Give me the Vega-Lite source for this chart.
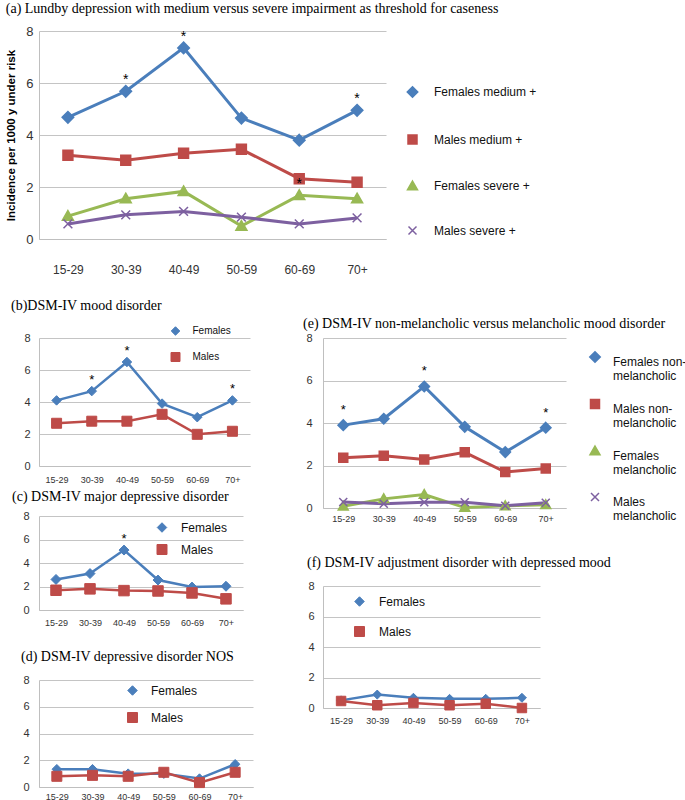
{
"$schema": "https://vega.github.io/schema/vega-lite/v6.json",
"padding": {"left": 5, "top": 2, "right": 0, "bottom": 0},
"background": "white",
"data": {"values": [
{"p":"a","s":"Females medium +","age":"15-29","v":4.68},
{"p":"a","s":"Females medium +","age":"30-39","v":5.68,"sig":"*"},
{"p":"a","s":"Females medium +","age":"40-49","v":7.35,"sig":"*"},
{"p":"a","s":"Females medium +","age":"50-59","v":4.65},
{"p":"a","s":"Females medium +","age":"60-69","v":3.8},
{"p":"a","s":"Females medium +","age":"70+","v":4.95,"sig":"*"},
{"p":"a","s":"Males medium +","age":"15-29","v":3.22},
{"p":"a","s":"Males medium +","age":"30-39","v":3.03},
{"p":"a","s":"Males medium +","age":"40-49","v":3.3},
{"p":"a","s":"Males medium +","age":"50-59","v":3.45},
{"p":"a","s":"Males medium +","age":"60-69","v":2.32},
{"p":"a","s":"Males medium +","age":"70+","v":2.18},
{"p":"a","s":"Females severe +","age":"15-29","v":0.88},
{"p":"a","s":"Females severe +","age":"30-39","v":1.55},
{"p":"a","s":"Females severe +","age":"40-49","v":1.83},
{"p":"a","s":"Females severe +","age":"50-59","v":0.5},
{"p":"a","s":"Females severe +","age":"60-69","v":1.68,"sig":"*"},
{"p":"a","s":"Females severe +","age":"70+","v":1.55},
{"p":"a","s":"Males severe +","age":"15-29","v":0.58},
{"p":"a","s":"Males severe +","age":"30-39","v":0.93},
{"p":"a","s":"Males severe +","age":"40-49","v":1.06},
{"p":"a","s":"Males severe +","age":"50-59","v":0.84},
{"p":"a","s":"Males severe +","age":"60-69","v":0.58},
{"p":"a","s":"Males severe +","age":"70+","v":0.81},
{"p":"b","s":"Females","age":"15-29","v":4.1},
{"p":"b","s":"Females","age":"30-39","v":4.68,"sig":"*"},
{"p":"b","s":"Females","age":"40-49","v":6.5,"sig":"*"},
{"p":"b","s":"Females","age":"50-59","v":3.9},
{"p":"b","s":"Females","age":"60-69","v":3.05},
{"p":"b","s":"Females","age":"70+","v":4.1,"sig":"*"},
{"p":"b","s":"Males","age":"15-29","v":2.67},
{"p":"b","s":"Males","age":"30-39","v":2.8},
{"p":"b","s":"Males","age":"40-49","v":2.8},
{"p":"b","s":"Males","age":"50-59","v":3.23},
{"p":"b","s":"Males","age":"60-69","v":1.98},
{"p":"b","s":"Males","age":"70+","v":2.17},
{"p":"c","s":"Females","age":"15-29","v":2.6},
{"p":"c","s":"Females","age":"30-39","v":3.1},
{"p":"c","s":"Females","age":"40-49","v":5.1,"sig":"*"},
{"p":"c","s":"Females","age":"50-59","v":2.55},
{"p":"c","s":"Females","age":"60-69","v":1.95},
{"p":"c","s":"Females","age":"70+","v":2.02},
{"p":"c","s":"Males","age":"15-29","v":1.68},
{"p":"c","s":"Males","age":"30-39","v":1.8},
{"p":"c","s":"Males","age":"40-49","v":1.65},
{"p":"c","s":"Males","age":"50-59","v":1.62},
{"p":"c","s":"Males","age":"60-69","v":1.45},
{"p":"c","s":"Males","age":"70+","v":0.95},
{"p":"d","s":"Females","age":"15-29","v":1.33},
{"p":"d","s":"Females","age":"30-39","v":1.33},
{"p":"d","s":"Females","age":"40-49","v":1.0},
{"p":"d","s":"Females","age":"50-59","v":1.0},
{"p":"d","s":"Females","age":"60-69","v":0.63},
{"p":"d","s":"Females","age":"70+","v":1.7},
{"p":"d","s":"Males","age":"15-29","v":0.8},
{"p":"d","s":"Males","age":"30-39","v":0.87},
{"p":"d","s":"Males","age":"40-49","v":0.8},
{"p":"d","s":"Males","age":"50-59","v":1.1},
{"p":"d","s":"Males","age":"60-69","v":0.33},
{"p":"d","s":"Males","age":"70+","v":1.1},
{"p":"e","s":"Females non-melancholic","age":"15-29","v":3.9,"sig":"*"},
{"p":"e","s":"Females non-melancholic","age":"30-39","v":4.2},
{"p":"e","s":"Females non-melancholic","age":"40-49","v":5.72,"sig":"*"},
{"p":"e","s":"Females non-melancholic","age":"50-59","v":3.82},
{"p":"e","s":"Females non-melancholic","age":"60-69","v":2.63},
{"p":"e","s":"Females non-melancholic","age":"70+","v":3.78,"sig":"*"},
{"p":"e","s":"Males non-melancholic","age":"15-29","v":2.36},
{"p":"e","s":"Males non-melancholic","age":"30-39","v":2.46},
{"p":"e","s":"Males non-melancholic","age":"40-49","v":2.28},
{"p":"e","s":"Males non-melancholic","age":"50-59","v":2.62},
{"p":"e","s":"Males non-melancholic","age":"60-69","v":1.69},
{"p":"e","s":"Males non-melancholic","age":"70+","v":1.86},
{"p":"e","s":"Females melancholic","age":"15-29","v":0.08},
{"p":"e","s":"Females melancholic","age":"30-39","v":0.43},
{"p":"e","s":"Females melancholic","age":"40-49","v":0.63},
{"p":"e","s":"Females melancholic","age":"50-59","v":0.02},
{"p":"e","s":"Females melancholic","age":"60-69","v":0.1},
{"p":"e","s":"Females melancholic","age":"70+","v":0.15},
{"p":"e","s":"Males melancholic","age":"15-29","v":0.28},
{"p":"e","s":"Males melancholic","age":"30-39","v":0.2},
{"p":"e","s":"Males melancholic","age":"40-49","v":0.27},
{"p":"e","s":"Males melancholic","age":"50-59","v":0.27},
{"p":"e","s":"Males melancholic","age":"60-69","v":0.11},
{"p":"e","s":"Males melancholic","age":"70+","v":0.25},
{"p":"f","s":"Females","age":"15-29","v":0.5},
{"p":"f","s":"Females","age":"30-39","v":0.88},
{"p":"f","s":"Females","age":"40-49","v":0.67},
{"p":"f","s":"Females","age":"50-59","v":0.6},
{"p":"f","s":"Females","age":"60-69","v":0.6},
{"p":"f","s":"Females","age":"70+","v":0.67},
{"p":"f","s":"Males","age":"15-29","v":0.46},
{"p":"f","s":"Males","age":"30-39","v":0.18},
{"p":"f","s":"Males","age":"40-49","v":0.33},
{"p":"f","s":"Males","age":"50-59","v":0.18},
{"p":"f","s":"Males","age":"60-69","v":0.28},
{"p":"f","s":"Males","age":"70+","v":0.0}
]},
"spacing": 24,
"resolve": {"scale": {"color": "independent", "fill": "independent", "stroke": "independent", "shape": "independent"}, "legend": {"color": "independent", "fill": "independent", "stroke": "independent", "shape": "independent"}},
"vconcat": [
{
 "width": 347, "height": 208,
 "title": {"text": "(a) Lundby depression with medium versus severe impairment as threshold for caseness", "offset": 9},
 "transform": [{"filter": "datum.p === 'a'"}],
 "encoding": {
  "x": {"field": "age", "type": "ordinal", "scale": {"type": "point", "padding": 0.5, "domain": ["15-29","30-39","40-49","50-59","60-69","70+"]}, "axis": {"title": null, "labelAngle": 0, "labelFontSize": 12, "labelPadding": 25}},
  "y": {"field": "v", "type": "quantitative", "scale": {"domain": [0, 8], "nice": false}, "axis": {"title": "Incidence per 1000 y under risk", "titleFontWeight": "bold", "titleFontSize": 11.5, "titlePadding": 9, "titleColor": "#000", "values": [0,2,4,6,8], "labelFontSize": 13, "labelPadding": 6, "grid": true}}
 },
 "layer": [
  {
   "mark": {"type": "line", "strokeWidth": 3},
   "encoding": {
    "color": {
     "field": "s", "type": "nominal",
     "scale": {"domain": ["Females medium +","Males medium +","Females severe +","Males severe +"], "range": ["#4A7EBB","#BE4B48","#98B954","#7D60A0"]},
     "legend": {"orient": "none", "legendX": 367.5, "legendY": 55, "title": null, "labelFontSize": 12, "labelOffset": 15.5, "rowPadding": 30.5, "symbolSize": 100, "symbolStrokeWidth": 1.5}
    }
   }
  },
  {"mark": {"type": "point", "filled": true, "opacity": 1, "size": 121, "strokeWidth": 1.5},
   "encoding": {
    "fill": {"field": "s", "type": "nominal", "scale": {"domain": ["Females medium +","Males medium +","Females severe +","Males severe +"], "range": ["#4A7EBB","#BE4B48","#98B954","#7D60A0"]}, "legend": null},
    "stroke": {"field": "s", "type": "nominal", "scale": {"domain": ["Females medium +","Males medium +","Females severe +","Males severe +"], "range": ["#4A7EBB","#BE4B48","#98B954","#7D60A0"]}, "legend": null},
    "shape": {"field": "s", "type": "nominal", "scale": {"domain": ["Females medium +","Males medium +","Females severe +","Males severe +"], "range": ["M0,-1.05L1.05,0L0,1.05L-1.05,0Z","M-0.9,-0.9H0.9V0.9H-0.9Z","M0,-1L1,0.75H-1Z","M-0.8,-0.8L0.8,0.8M-0.8,0.8L0.8,-0.8"]}, "legend": null}}},
  {"transform": [{"filter": "datum.sig === '*'"}], "mark": {"type": "text", "dy": -11, "fontSize": 14, "color": "#000"}, "encoding": {"text": {"field": "sig"}}}
 ]
},
{
 "spacing": 50,
 "resolve": {"scale": {"color": "independent", "fill": "independent", "stroke": "independent", "shape": "independent"}, "legend": {"color": "independent", "fill": "independent", "stroke": "independent", "shape": "independent"}},
 "hconcat": [
  {
   "spacing": 23,
   "resolve": {"scale": {"color": "independent", "fill": "independent", "stroke": "independent", "shape": "independent"}, "legend": {"color": "independent", "fill": "independent", "stroke": "independent", "shape": "independent"}},
   "vconcat": [
    {
     "spacing": 6,
     "resolve": {"scale": {"color": "independent", "fill": "independent", "stroke": "independent", "shape": "independent"}, "legend": {"color": "independent", "fill": "independent", "stroke": "independent", "shape": "independent"}},
     "vconcat": [
      {
       "width": 211, "height": 128,
       "title": {"text": "(b)DSM-IV mood disorder", "offset": 13, "dx": -1},
       "transform": [{"filter": "datum.p === 'b'"}],
       "encoding": {
        "x": {"field": "age", "type": "ordinal", "scale": {"type": "point", "padding": 0.5, "domain": ["15-29","30-39","40-49","50-59","60-69","70+"]}, "axis": {"title": null, "labelAngle": 0, "labelFontSize": 9, "labelPadding": 9}},
        "y": {"field": "v", "type": "quantitative", "scale": {"domain": [0, 8], "nice": false}, "axis": {"title": null, "values": [0,2,4,6,8], "labelFontSize": 11, "labelPadding": 9, "grid": true, "minExtent": 27}}
       },
       "layer": [
        {
         "mark": {"type": "line", "strokeWidth": 2.5},
         "encoding": {
          "color": {
           "field": "s", "type": "nominal",
           "scale": {"domain": ["Females","Males"], "range": ["#4A7EBB","#BE4B48"]},
           "legend": {"orient": "none", "legendX": 131.5, "legendY": -12, "title": null, "labelFontSize": 10, "labelOffset": 12, "rowPadding": 12, "symbolSize": 81, "symbolStrokeWidth": 1}
          }
         }
        },
        {"mark": {"type": "point", "filled": true, "opacity": 1, "size": 100, "strokeWidth": 1},
         "encoding": {
          "fill": {"field": "s", "type": "nominal", "scale": {"domain": ["Females","Males"], "range": ["#4A7EBB","#BE4B48"]}, "legend": null},
          "stroke": {"field": "s", "type": "nominal", "scale": {"domain": ["Females","Males"], "range": ["#4A7EBB","#BE4B48"]}, "legend": null},
          "shape": {"field": "s", "type": "nominal", "scale": {"domain": ["Females","Males"], "range": ["M0,-0.95L0.95,0L0,0.95L-0.95,0Z","M-1,-1H1V1H-1Z"]}, "legend": null}}},
        {"transform": [{"filter": "datum.sig === '*'"}], "mark": {"type": "text", "dy": -11, "fontSize": 13, "color": "#000"}, "encoding": {"text": {"field": "sig"}}}
       ]
      },
      {
       "width": 204, "height": 94,
       "title": {"text": "(c) DSM-IV major depressive disorder", "offset": 6, "dx": 3},
       "transform": [{"filter": "datum.p === 'c'"}],
       "encoding": {
        "x": {"field": "age", "type": "ordinal", "scale": {"type": "point", "padding": 0.5, "domain": ["15-29","30-39","40-49","50-59","60-69","70+"]}, "axis": {"title": null, "labelAngle": 0, "labelFontSize": 9, "labelPadding": 8}},
        "y": {"field": "v", "type": "quantitative", "scale": {"domain": [0, 8], "nice": false}, "axis": {"title": null, "values": [0,2,4,6,8], "labelFontSize": 11, "labelPadding": 10, "grid": true, "minExtent": 30}}
       },
       "layer": [
        {
         "mark": {"type": "line", "strokeWidth": 2.5},
         "encoding": {
          "color": {
           "field": "s", "type": "nominal",
           "scale": {"domain": ["Females","Males"], "range": ["#4A7EBB","#BE4B48"]},
           "legend": {"orient": "none", "legendX": 117, "legendY": 5.5, "title": null, "labelFontSize": 12, "labelOffset": 13, "rowPadding": 8, "symbolSize": 100, "symbolStrokeWidth": 1}
          }
         }
        },
        {"mark": {"type": "point", "filled": true, "opacity": 1, "size": 110, "strokeWidth": 1},
         "encoding": {
          "fill": {"field": "s", "type": "nominal", "scale": {"domain": ["Females","Males"], "range": ["#4A7EBB","#BE4B48"]}, "legend": null},
          "stroke": {"field": "s", "type": "nominal", "scale": {"domain": ["Females","Males"], "range": ["#4A7EBB","#BE4B48"]}, "legend": null},
          "shape": {"field": "s", "type": "nominal", "scale": {"domain": ["Females","Males"], "range": ["M0,-0.95L0.95,0L0,0.95L-0.95,0Z","M-1,-1H1V1H-1Z"]}, "legend": null}}},
        {"transform": [{"filter": "datum.sig === '*'"}], "mark": {"type": "text", "dy": -11, "fontSize": 13, "color": "#000"}, "encoding": {"text": {"field": "sig"}}}
       ]
      }
     ]
    },
    {
     "width": 214, "height": 107,
     "title": {"text": "(d) DSM-IV depressive disorder NOS", "offset": 10, "dx": 15},
     "transform": [{"filter": "datum.p === 'd'"}],
     "encoding": {
      "x": {"field": "age", "type": "ordinal", "scale": {"type": "point", "padding": 0.5, "domain": ["15-29","30-39","40-49","50-59","60-69","70+"]}, "axis": {"title": null, "labelAngle": 0, "labelFontSize": 9, "labelPadding": 5}},
      "y": {"field": "v", "type": "quantitative", "scale": {"domain": [0, 8], "nice": false}, "axis": {"title": null, "values": [0,2,4,6,8], "labelFontSize": 11, "labelPadding": 10, "grid": true, "minExtent": 33}}
     },
     "layer": [
      {
       "mark": {"type": "line", "strokeWidth": 2.5},
       "encoding": {
        "color": {
         "field": "s", "type": "nominal",
         "scale": {"domain": ["Females","Males"], "range": ["#4A7EBB","#BE4B48"]},
         "legend": {"orient": "none", "legendX": 87.5, "legendY": 4.5, "title": null, "labelFontSize": 12, "labelOffset": 12.5, "rowPadding": 13, "symbolSize": 100, "symbolStrokeWidth": 1}
        }
       }
      },
      {"mark": {"type": "point", "filled": true, "opacity": 1, "size": 100, "strokeWidth": 1},
       "encoding": {
        "fill": {"field": "s", "type": "nominal", "scale": {"domain": ["Females","Males"], "range": ["#4A7EBB","#BE4B48"]}, "legend": null},
        "stroke": {"field": "s", "type": "nominal", "scale": {"domain": ["Females","Males"], "range": ["#4A7EBB","#BE4B48"]}, "legend": null},
        "shape": {"field": "s", "type": "nominal", "scale": {"domain": ["Females","Males"], "range": ["M0,-0.95L0.95,0L0,0.95L-0.95,0Z","M-1,-1H1V1H-1Z"]}, "legend": null}}}
     ]
    }
   ]
  },
  {
   "spacing": 33,
   "resolve": {"scale": {"color": "independent", "fill": "independent", "stroke": "independent", "shape": "independent"}, "legend": {"color": "independent", "fill": "independent", "stroke": "independent", "shape": "independent"}},
   "vconcat": [
    {
     "width": 243, "height": 170,
     "title": {"text": "(e) DSM-IV non-melancholic versus melancholic mood disorder", "offset": 1},
     "transform": [{"filter": "datum.p === 'e'"}],
     "encoding": {
      "x": {"field": "age", "type": "ordinal", "scale": {"type": "point", "padding": 0.5, "domain": ["15-29","30-39","40-49","50-59","60-69","70+"]}, "axis": {"title": null, "labelAngle": 0, "labelFontSize": 9, "labelPadding": 6}},
      "y": {"field": "v", "type": "quantitative", "scale": {"domain": [0, 8], "nice": false}, "axis": {"title": null, "values": [0,2,4,6,8], "labelFontSize": 11, "labelPadding": 11, "grid": true, "minExtent": 20}}
     },
     "layer": [
      {
       "mark": {"type": "line", "strokeWidth": 3},
       "encoding": {
        "color": {
         "field": "s", "type": "nominal",
         "scale": {"domain": ["Females non-melancholic","Males non-melancholic","Females melancholic","Males melancholic"], "range": ["#4A7EBB","#BE4B48","#98B954","#7D60A0"]},
         "legend": {"orient": "none", "legendX": 266, "legendY": 13, "title": null, "labelFontSize": 12, "labelOffset": 12, "rowPadding": 14, "symbolSize": 100, "symbolStrokeWidth": 1.5, "labelBaseline": "top",
          "labelExpr": "indexof(datum.label,'non-') >= 0 ? [slice(datum.label,0,indexof(datum.label,'non-')+4), slice(datum.label,indexof(datum.label,'non-')+4)] : split(datum.label,' ')"}
        }
       }
      },
      {"mark": {"type": "point", "filled": true, "opacity": 1, "size": 100, "strokeWidth": 1.5},
       "encoding": {
        "fill": {"field": "s", "type": "nominal", "scale": {"domain": ["Females non-melancholic","Males non-melancholic","Females melancholic","Males melancholic"], "range": ["#4A7EBB","#BE4B48","#98B954","#7D60A0"]}, "legend": null},
        "stroke": {"field": "s", "type": "nominal", "scale": {"domain": ["Females non-melancholic","Males non-melancholic","Females melancholic","Males melancholic"], "range": ["#4A7EBB","#BE4B48","#98B954","#7D60A0"]}, "legend": null},
        "shape": {"field": "s", "type": "nominal", "scale": {"domain": ["Females non-melancholic","Males non-melancholic","Females melancholic","Males melancholic"], "range": ["M0,-1.05L1.05,0L0,1.05L-1.05,0Z","M-0.9,-0.9H0.9V0.9H-0.9Z","M0,-1L1,0.75H-1Z","M-0.8,-0.8L0.8,0.8M-0.8,0.8L0.8,-0.8"]}, "legend": null}}},
      {"transform": [{"filter": "datum.sig === '*'"}], "mark": {"type": "text", "dy": -15, "fontSize": 13, "color": "#000"}, "encoding": {"text": {"field": "sig"}}}
     ]
    },
    {
     "width": 217, "height": 122,
     "title": {"text": "(f) DSM-IV adjustment disorder with depressed mood", "offset": 10, "dx": 4},
     "transform": [{"filter": "datum.p === 'f'"}],
     "encoding": {
      "x": {"field": "age", "type": "ordinal", "scale": {"type": "point", "padding": 0.5, "domain": ["15-29","30-39","40-49","50-59","60-69","70+"]}, "axis": {"title": null, "labelAngle": 0, "labelFontSize": 9, "labelPadding": 8}},
      "y": {"field": "v", "type": "quantitative", "scale": {"domain": [0, 8], "nice": false}, "axis": {"title": null, "values": [0,2,4,6,8], "labelFontSize": 11, "labelPadding": 9, "grid": true, "minExtent": 20}}
     },
     "layer": [
      {
       "mark": {"type": "line", "strokeWidth": 2.5},
       "encoding": {
        "color": {
         "field": "s", "type": "nominal",
         "scale": {"domain": ["Females","Males"], "range": ["#4A7EBB","#BE4B48"]},
         "legend": {"orient": "none", "legendX": 30.5, "legendY": 9.5, "title": null, "labelFontSize": 12, "labelOffset": 13.5, "rowPadding": 16, "symbolSize": 100, "symbolStrokeWidth": 1}
        }
       }
      },
      {"mark": {"type": "point", "filled": true, "opacity": 1, "size": 90, "strokeWidth": 1},
       "encoding": {
        "fill": {"field": "s", "type": "nominal", "scale": {"domain": ["Females","Males"], "range": ["#4A7EBB","#BE4B48"]}, "legend": null},
        "stroke": {"field": "s", "type": "nominal", "scale": {"domain": ["Females","Males"], "range": ["#4A7EBB","#BE4B48"]}, "legend": null},
        "shape": {"field": "s", "type": "nominal", "scale": {"domain": ["Females","Males"], "range": ["M0,-0.95L0.95,0L0,0.95L-0.95,0Z","M-1,-1H1V1H-1Z"]}, "legend": null}}}
     ]
    }
   ]
  }
 ]
}
],
"config": {
 "view": {"stroke": null},
 "font": "Liberation Sans",
 "title": {"font": "Liberation Serif", "fontSize": 14, "fontWeight": "normal", "anchor": "start", "color": "#000"},
 "axis": {"labelColor": "#333", "domainColor": "#bfbfbf", "gridColor": "#c4c4c4", "ticks": false, "labelFont": "Liberation Sans", "labelOverlap": false},
 "legend": {"labelFont": "Liberation Sans", "labelColor": "#111"}
}
}
